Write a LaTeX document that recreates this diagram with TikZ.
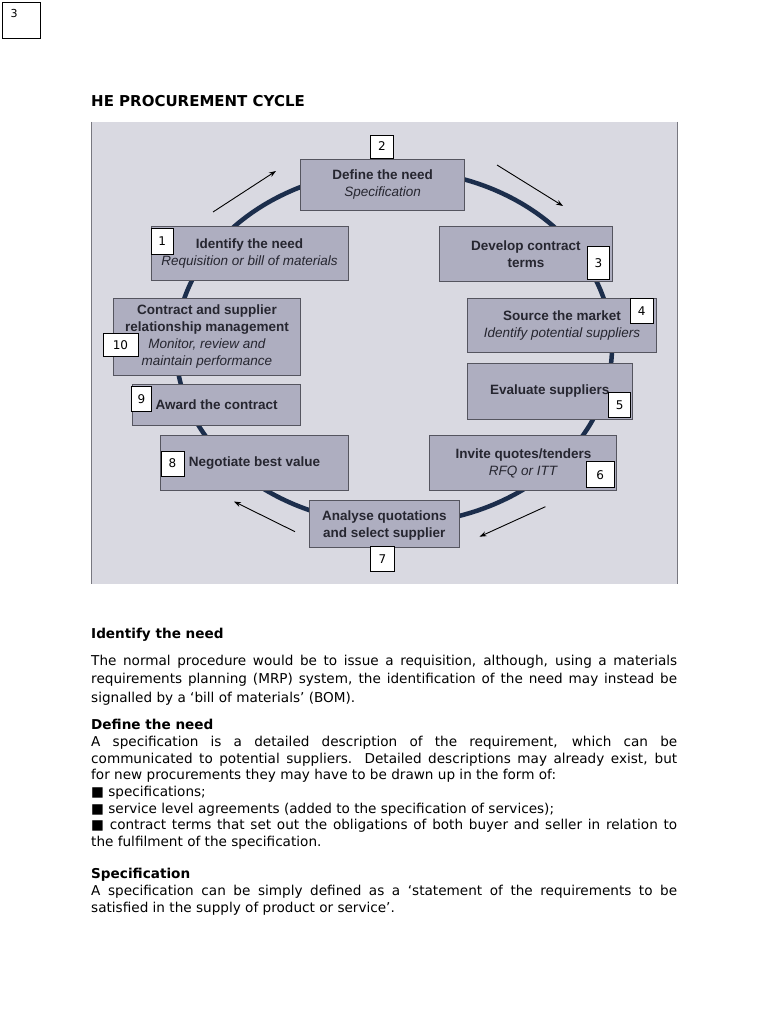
\documentclass[tikz,border=0pt]{standalone}
\usepackage{fontspec}
\setmainfont{DejaVu Sans}
\newfontfamily\arialf{Liberation Sans}
\usetikzlibrary{arrows.meta}
\definecolor{panelbg}{RGB}{217,217,225}
\definecolor{boxfill}{RGB}{174,174,192}
\definecolor{boxline}{RGB}{85,85,95}
\definecolor{ringcol}{RGB}{28,46,76}
\definecolor{boxtext}{RGB}{38,38,48}
\definecolor{panelline}{RGB}{120,120,128}
\begin{document}
\begin{tikzpicture}[x=1pt,y=-1pt,
  pbox/.style={draw=boxline, line width=0.9pt, fill=boxfill, align=center, inner sep=0pt,
    text=boxtext, font=\arialf\fontsize{13.5}{17}\selectfont},
  lbl/.style={draw=black, line width=0.8pt, fill=white, inner sep=0pt,
    font=\fontsize{12}{14}\selectfont},
  ring/.style={draw=ringcol, line width=4.5pt},
  arr/.style={line width=0.9pt, -{Stealth[length=7pt,width=5pt]}},
  bodyline/.style={anchor=base west, inner sep=0pt, font=\fontsize{13.6}{16}\selectfont},
  headline/.style={anchor=base west, inner sep=0pt, font=\fontsize{13.6}{16}\selectfont\bfseries}]
\useasboundingbox (0,0) rectangle (768,1024);
\fill[white] (0,0) rectangle (768,1024);

% page number box
\node[draw=black, line width=0.8pt, minimum width=38pt, minimum height=36pt, inner sep=0pt] (pg) at (21,20) {};
\node[inner sep=0pt, font=\fontsize{11}{13}\selectfont] (pgnum) at (14,13) {3};

% title
\node[anchor=base west, inner sep=0pt, font=\fontsize{15}{18}\selectfont\bfseries] (title) at (91,106.5) {HE PROCUREMENT CYCLE};

% panel
\fill[panelbg] (91,122) rectangle (678,584);
\draw[panelline, line width=1pt] (91.5,122) -- (91.5,584);
\draw[panelline, line width=1pt] (677.5,122) -- (677.5,584);

% ring
\draw[ring] (394,347) ellipse [x radius=218, y radius=177];

% boxes
\node[pbox, minimum width=163.7pt, minimum height=51.4pt] (define) at (382.6,185) {\textbf{Define the need}\\\textit{Specification}};
\node[pbox, minimum width=197pt, minimum height=54pt] (identify) at (249.6,253.7) {\textbf{Identify the need}\\\textit{Requisition or bill of materials}};
\node[pbox, minimum width=173pt, minimum height=55pt] (develop) at (525.9,254.2) {\textbf{Develop contract}\\\textbf{terms}};
\node[pbox, minimum width=187.5pt, minimum height=76.7pt] (contract) at (207,336.6) {\textbf{Contract and supplier}\\\textbf{relationship management}\\\textit{Monitor, review and}\\\textit{maintain performance}};
\node[pbox, minimum width=189pt, minimum height=54.4pt] (source) at (562,325.5) {\textbf{Source the market}\\\textit{Identify potential suppliers}};
\node[pbox, minimum width=164.5pt, minimum height=56pt] (evaluate) at (549.7,391.3) {\textbf{Evaluate suppliers}};
\node[pbox, minimum width=168.3pt, minimum height=41.4pt] (award) at (216.6,405) {\textbf{Award the contract}};
\node[pbox, minimum width=187.4pt, minimum height=55pt] (negotiate) at (254.5,463.2) {\textbf{Negotiate best value}};
\node[pbox, minimum width=187pt, minimum height=55pt] (invite) at (523.4,463.2) {\textbf{Invite quotes/tenders}\\\textit{RFQ or ITT}};
\node[pbox, minimum width=150pt, minimum height=46.6pt, text depth=0pt] (analyse) at (384.3,524) {\textbf{Analyse quotations}\\\textbf{and select supplier}};

% number labels
\node[lbl, minimum width=22.5pt, minimum height=26pt] (l1) at (162.2,241) {1};
\node[lbl, minimum width=23pt, minimum height=23pt] (l2) at (382,146.5) {2};
\node[lbl, minimum width=22pt, minimum height=32.6pt] (l3) at (598.5,263) {3};
\node[lbl, minimum width=23.4pt, minimum height=25pt] (l4) at (641.7,310.8) {4};
\node[lbl, minimum width=22.2pt, minimum height=25pt] (l5) at (619.7,404.8) {5};
\node[lbl, minimum width=28.3pt, minimum height=26pt] (l6) at (600.2,474.7) {6};
\node[lbl, minimum width=23.2pt, minimum height=25pt] (l7) at (382.4,559.2) {7};
\node[lbl, minimum width=23.2pt, minimum height=25pt] (l8) at (172.5,463.5) {8};
\node[lbl, minimum width=20pt, minimum height=25.7pt] (l9) at (141.4,398.9) {9};
\node[lbl, minimum width=35pt, minimum height=23.4pt] (l10) at (120.5,345) {10};

% flow arrows
\coordinate (a1s) at (213,212);
\coordinate (a1e) at (276,171);
\coordinate (a2s) at (497,165);
\coordinate (a2e) at (563,206);
\coordinate (a3s) at (545.4,506.7);
\coordinate (a3e) at (479.5,536.7);
\coordinate (a4s) at (295,531.7);
\coordinate (a4e) at (234,501.5);
\draw[arr] (a1s) -- (a1e);
\draw[arr] (a2s) -- (a2e);
\draw[arr] (a3s) -- (a3e);
\draw[arr] (a4s) -- (a4e);

% body text
\node[headline] (h1) at (91,638.3) {Identify the need};
\node[bodyline] (p1a) at (91,665.5) {\makebox[586pt][s]{The normal procedure would be to issue a requisition, although, using a materials}};
\node[bodyline] (p1b) at (91,683.3) {\makebox[586pt][s]{requirements planning (MRP) system, the identification of the need may instead be}};
\node[bodyline] (p1c) at (91,702.3) {signalled by a ‘bill of materials’ (BOM).};

\node[headline] (h2) at (91,729.5) {Define the need};
\node[bodyline] (p2a) at (91,746.5) {\makebox[586pt][s]{A specification is a detailed description of the requirement, which can be}};
\node[bodyline] (p2b) at (91,763.2) {\makebox[586pt][s]{communicated to potential suppliers. Detailed descriptions may already exist, but}};
\node[bodyline] (p2c) at (91,779.9) {for new procurements they may have to be drawn up in the form of:};
\node[bodyline] (p2d) at (91,796.6) {■ specifications;};
\node[bodyline] (p2e) at (91,813.2) {■ service level agreements (added to the specification of services);};
\node[bodyline] (p2f) at (91,829.9) {\makebox[586pt][s]{■ contract terms that set out the obligations of both buyer and seller in relation to}};
\node[bodyline] (p2g) at (91,846.5) {the fulfilment of the specification.};

\node[headline] (h3) at (91,878.5) {Specification};
\node[bodyline] (p3a) at (91,895.3) {\makebox[586pt][s]{A specification can be simply defined as a ‘statement of the requirements to be}};
\node[bodyline] (p3b) at (91,912) {satisfied in the supply of product or service’.};
\end{tikzpicture}
\end{document}
